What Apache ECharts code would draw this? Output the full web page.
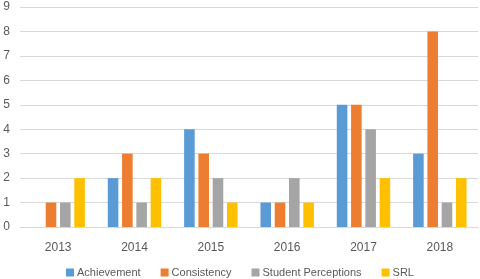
<!DOCTYPE html>
<html>
<head>
<meta charset="utf-8">
<script src="https://cdn.jsdelivr.net/npm/echarts@6/dist/echarts.min.js"></script>
<style>
html, body { margin: 0; padding: 0; background: #fff; }
#chart { width: 480px; height: 279px; }
</style>
</head>
<body>
<div id="chart"></div>
<script>
var years = ['2013', '2014', '2015', '2016', '2017', '2018'];
var achievement = [0, 2, 4, 1, 5, 3];
var consistency = [1, 3, 3, 1, 5, 8];
var studentPerceptions = [1, 1, 2, 2, 4, 1];
var srl = [2, 2, 1, 1, 2, 2];

var myChart = echarts.init(document.getElementById('chart'));
var font = 'Liberation Sans, Arial, sans-serif';

var option = {
    animation: false,
    color: ['#5B9BD5', '#ED7D31', '#A5A5A5', '#FFC000'],
    textStyle: { fontFamily: font },
    grid: { left: 20, right: 2, top: 7, bottom: 52 },
    legend: {
        bottom: 1,
        padding: 0,
        left: 'center',
        itemWidth: 8,
        itemHeight: 8,
        itemGap: 20,
        icon: 'rect',
        textStyle: { fontSize: 11, color: '#595959', fontFamily: font, padding: [0, 0, 0, -2] }
    },
    xAxis: {
        type: 'category',
        data: years,
        axisLine: { lineStyle: { color: '#D9D9D9' } },
        axisTick: { show: false },
        axisLabel: { fontSize: 12, color: '#595959', margin: 15 }
    },
    yAxis: {
        type: 'value',
        min: 0,
        max: 9,
        interval: 1,
        axisLine: { show: false },
        axisTick: { show: false },
        splitLine: { lineStyle: { color: '#D9D9D9' } },
        axisLabel: { fontSize: 12, color: '#595959', margin: 10 }
    },
    series: [
        { name: 'Achievement', type: 'bar', data: achievement, barGap: '35%', barCategoryGap: '30%' },
        { name: 'Consistency', type: 'bar', data: consistency },
        { name: 'Student Perceptions', type: 'bar', data: studentPerceptions },
        { name: 'SRL', type: 'bar', data: srl }
    ]
};

option && myChart.setOption(option);
</script>
</body>
</html>
